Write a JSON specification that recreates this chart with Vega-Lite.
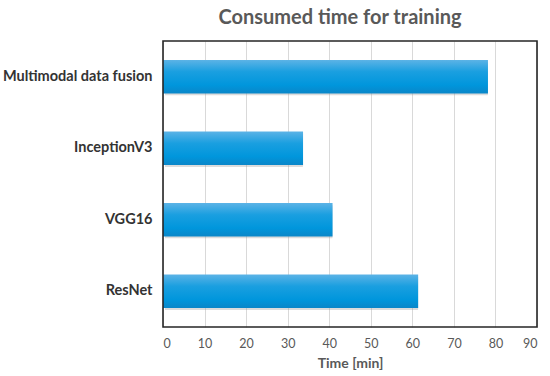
{
  "$schema": "https://vega.github.io/schema/vega-lite/v6.json",
  "width": 374,
  "height": 286,
  "autosize": {"type": "none"},
  "padding": {"left": 163, "top": 41, "right": 13, "bottom": 49},
  "background": "white",
  "title": {
    "text": "Consumed time for training",
    "font": "Lato",
    "fontSize": 20,
    "fontWeight": "bold",
    "color": "#595959",
    "anchor": "middle",
    "dx": -10,
    "offset": 12
  },
  "config": {
    "font": "Lato",
    "view": {"stroke": null}
  },
  "data": {
    "values": [
      {"model": "Multimodal data fusion", "time": 78.2},
      {"model": "InceptionV3", "time": 33.7},
      {"model": "VGG16", "time": 40.8},
      {"model": "ResNet", "time": 61.4}
    ]
  },
  "layer": [
    {
      "mark": {"type": "bar", "color": "#9a9a9a", "opacity": 0.35, "xOffset": 2, "yOffset": 2, "cornerRadius": 1},
      "encoding": {
        "y": {"field": "model", "type": "nominal", "sort": null},
        "x": {"field": "time", "type": "quantitative"}
      }
    },
    {
      "mark": {
        "type": "bar",
        "color": {
          "gradient": "linear",
          "x1": 0, "y1": 0, "x2": 0, "y2": 1,
          "stops": [
            {"offset": 0, "color": "#5cb3e6"},
            {"offset": 0.35, "color": "#1a9fe0"},
            {"offset": 0.75, "color": "#0096dc"},
            {"offset": 1, "color": "#0a86c8"}
          ]
        }
      },
      "encoding": {
        "y": {
          "field": "model",
          "type": "nominal",
          "sort": null,
          "scale": {"paddingInner": 0.53, "paddingOuter": 0.265},
          "axis": {
            "title": null,
            "domain": false,
            "ticks": false,
            "labelPadding": 11,
            "labelFont": "Lato",
            "labelFontSize": 14.5,
            "labelFontWeight": "bold",
            "labelColor": "#333333"
          }
        },
        "x": {
          "field": "time",
          "type": "quantitative",
          "scale": {"domain": [0, 90], "nice": false},
          "axis": {
            "values": [0, 10, 20, 30, 40, 50, 60, 70, 80, 90],
            "title": "Time [min]",
            "titleFont": "Lato",
            "titleFontSize": 14,
            "titleFontWeight": "bold",
            "titleColor": "#595959",
            "titlePadding": 7,
            "domain": false,
            "ticks": false,
            "labelPadding": 10,
            "labelFont": "Lato",
            "labelFontSize": 12.5,
            "labelColor": "#595959",
            "grid": true,
            "gridColor": "#d9d9d9",
            "gridWidth": 1
          }
        }
      }
    },
    {
      "data": {"values": [{"lo": 0, "hi": 90}]},
      "mark": {"type": "rect", "fill": null, "fillOpacity": 0, "stroke": "#262626", "strokeWidth": 1.6},
      "encoding": {
        "x": {"field": "lo", "type": "quantitative"},
        "x2": {"field": "hi"}
      }
    }
  ]
}
